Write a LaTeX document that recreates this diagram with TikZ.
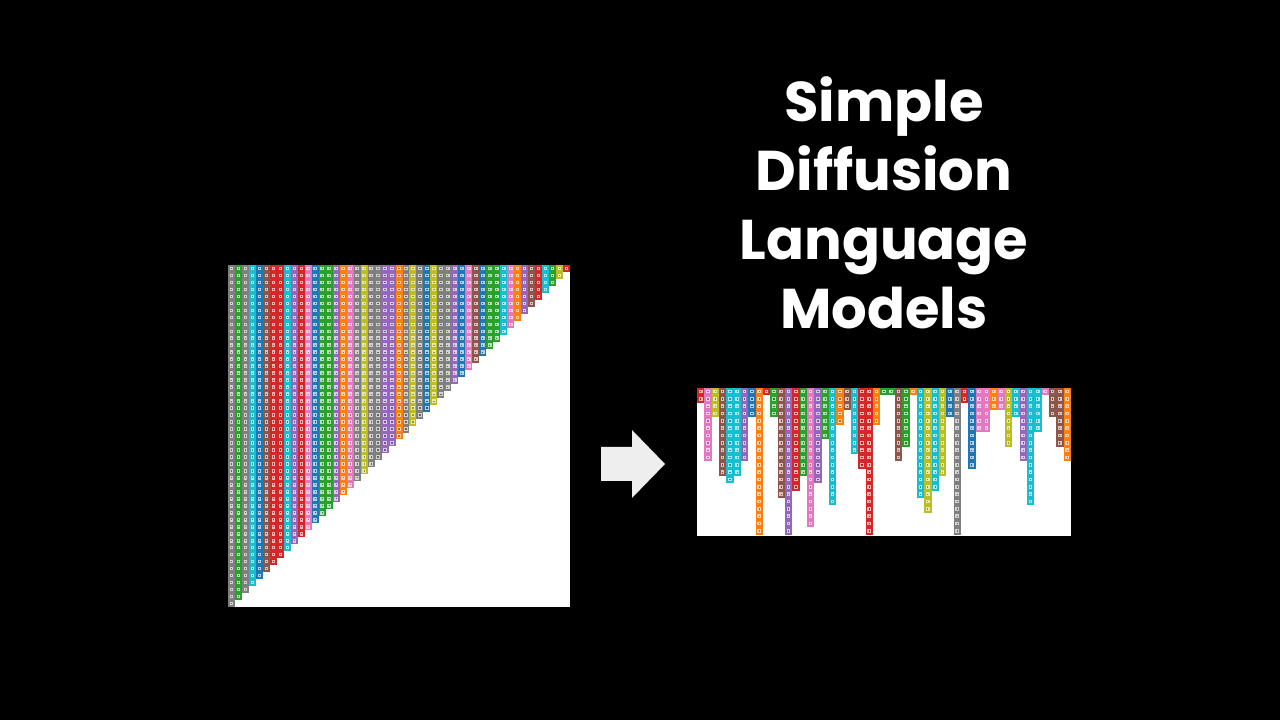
\documentclass[tikz,border=0pt]{standalone}
\usepackage{fontspec}
\setmainfont{Poppins}
\definecolor{c0}{HTML}{1F77B4}\definecolor{c1}{HTML}{FF7F0E}\definecolor{c2}{HTML}{2CA02C}
\definecolor{c3}{HTML}{D62728}\definecolor{c4}{HTML}{9467BD}\definecolor{c5}{HTML}{8C564B}
\definecolor{c6}{HTML}{E377C2}\definecolor{c7}{HTML}{7F7F7F}\definecolor{c8}{HTML}{BCBD22}
\definecolor{c9}{HTML}{17BECF}\definecolor{arrowgray}{HTML}{EEEEEE}
\tikzset{title/.style={text=white,font=\fontsize{56}{69}\selectfont\bfseries,align=center}}
\begin{document}
\begin{tikzpicture}[x=1pt,y=1pt]
\fill[black] (0,0) rectangle (1280,720);
\useasboundingbox (0,0) rectangle (1280,720);
\pgfmathsetseed{7}
% left panel
\fill[white] (228,113) rectangle (570,455);
\foreach \i in {0,...,48}{
  \pgfmathrandominteger{\k}{0}{9}
  \pgfmathtruncatemacro{\n}{48-\i}
  \pgfmathsetmacro{\x}{228+6.98*\i}
  \fill[c\k] (\x,455) rectangle (\x+6.98,455-6.98*\n-6.98);
  \foreach \j in {0,...,\n}{
    \pgfmathsetmacro{\y}{455-6.98*\j}
    \fill[c\k!35!white] (\x+1.7,\y-1.7) rectangle ++(3.6,-3.6);
    \fill[c\k!80!black] (\x+2.9,\y-2.9) rectangle ++(1.2,-1.2);
  }
}
% right panel
\fill[white] (697,184) rectangle (1071,332);
\foreach \i in {0,...,50}{
  \pgfmathrandominteger{\k}{0}{9}
  \pgfmathrandominteger{\n}{0}{19}
  \pgfmathsetmacro{\x}{697+7.33*\i}
  \fill[c\k] (\x,332) rectangle (\x+7.33,332-7.33*\n-7.33);
  \foreach \j in {0,...,\n}{
    \pgfmathsetmacro{\y}{332-7.33*\j}
    \fill[c\k!35!white] (\x+1.8,\y-1.8) rectangle ++(3.7,-3.7);
    \fill[c\k!80!black] (\x+3.05,\y-3.05) rectangle ++(1.2,-1.2);
  }
}
% arrow
\fill[arrowgray] (601,273) -- (632,273) -- (632,290) -- (665,256) -- (632,222) -- (632,239) -- (601,239) -- cycle;
% title
\node[title] (t) at (884,517) {Simple\\Diffusion\\Language\\Models};
\end{tikzpicture}
\end{document}
